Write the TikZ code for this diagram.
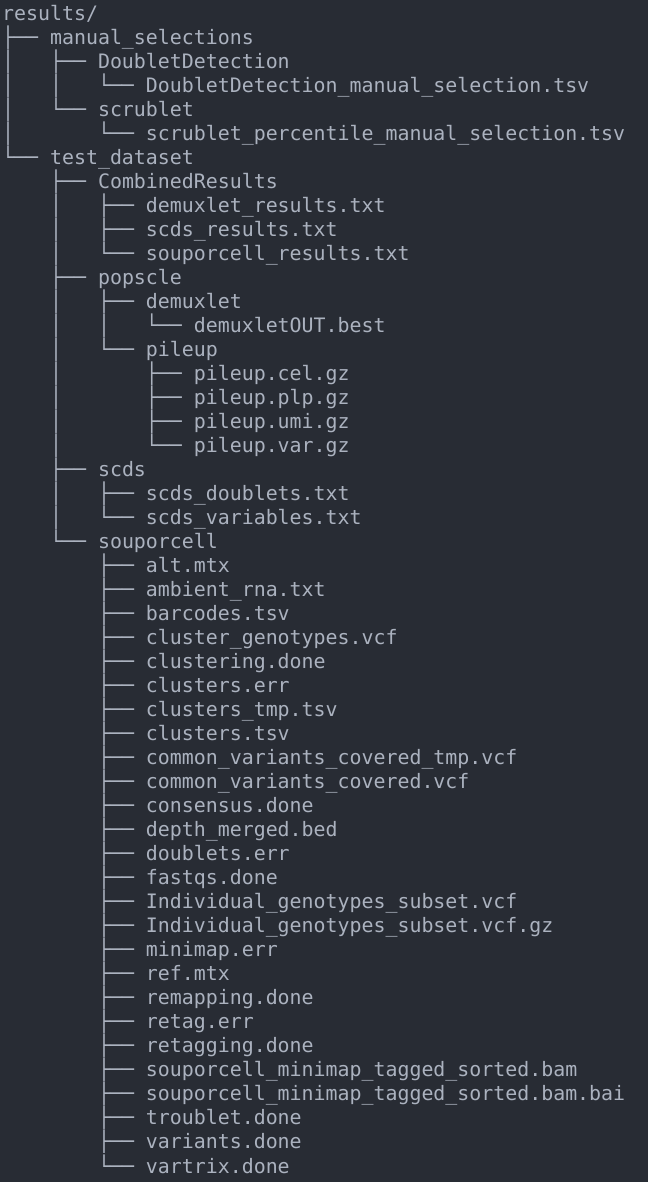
\documentclass[tikz,border=0pt]{standalone}
\usepackage{fontspec}
\setmonofont{DejaVu Sans Mono}
\definecolor{bg}{HTML}{282C34}
\definecolor{fg}{HTML}{ABB2BF}
\tikzset{ln/.style={anchor=base west,inner sep=0pt,text=fg,font=\ttfamily\fontsize{19.9}{24}\selectfont}}
\begin{document}
\begin{tikzpicture}[x=1pt,y=1pt]
\fill[bg] (0,0) rectangle (648,1182);
\useasboundingbox (0,0) rectangle (648,1182);
\foreach \t [count=\i from 0] in {
results/,
├──~manual\_selections,
│~~~├──~DoubletDetection,
│~~~│~~~└──~DoubletDetection\_manual\_selection.tsv,
│~~~└──~scrublet,
│~~~~~~~└──~scrublet\_percentile\_manual\_selection.tsv,
└──~test\_dataset,
~~~~├──~CombinedResults,
~~~~│~~~├──~demuxlet\_results.txt,
~~~~│~~~├──~scds\_results.txt,
~~~~│~~~└──~souporcell\_results.txt,
~~~~├──~popscle,
~~~~│~~~├──~demuxlet,
~~~~│~~~│~~~└──~demuxletOUT.best,
~~~~│~~~└──~pileup,
~~~~│~~~~~~~├──~pileup.cel.gz,
~~~~│~~~~~~~├──~pileup.plp.gz,
~~~~│~~~~~~~├──~pileup.umi.gz,
~~~~│~~~~~~~└──~pileup.var.gz,
~~~~├──~scds,
~~~~│~~~├──~scds\_doublets.txt,
~~~~│~~~└──~scds\_variables.txt,
~~~~└──~souporcell,
~~~~~~~~├──~alt.mtx,
~~~~~~~~├──~ambient\_rna.txt,
~~~~~~~~├──~barcodes.tsv,
~~~~~~~~├──~cluster\_genotypes.vcf,
~~~~~~~~├──~clustering.done,
~~~~~~~~├──~clusters.err,
~~~~~~~~├──~clusters\_tmp.tsv,
~~~~~~~~├──~clusters.tsv,
~~~~~~~~├──~common\_variants\_covered\_tmp.vcf,
~~~~~~~~├──~common\_variants\_covered.vcf,
~~~~~~~~├──~consensus.done,
~~~~~~~~├──~depth\_merged.bed,
~~~~~~~~├──~doublets.err,
~~~~~~~~├──~fastqs.done,
~~~~~~~~├──~Individual\_genotypes\_subset.vcf,
~~~~~~~~├──~Individual\_genotypes\_subset.vcf.gz,
~~~~~~~~├──~minimap.err,
~~~~~~~~├──~ref.mtx,
~~~~~~~~├──~remapping.done,
~~~~~~~~├──~retag.err,
~~~~~~~~├──~retagging.done,
~~~~~~~~├──~souporcell\_minimap\_tagged\_sorted.bam,
~~~~~~~~├──~souporcell\_minimap\_tagged\_sorted.bam.bai,
~~~~~~~~├──~troublet.done,
~~~~~~~~├──~variants.done,
~~~~~~~~└──~vartrix.done}
  \node[ln] (l\i) at (2,{1182-21-24*\i}) {\t};
\end{tikzpicture}
\end{document}
